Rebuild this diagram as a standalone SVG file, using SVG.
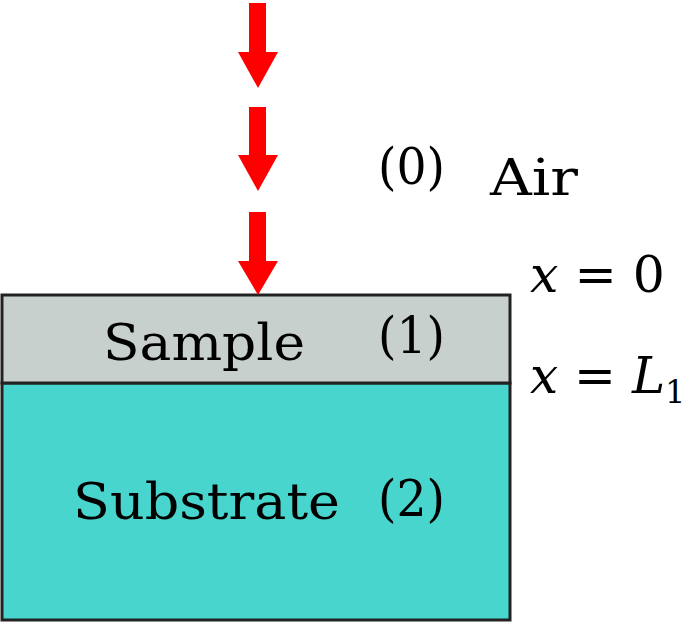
<svg xmlns="http://www.w3.org/2000/svg" width="700" height="623" viewBox="0 0 700 623">
<style>
.t{font-family:"DejaVu Serif","Liberation Serif",serif;font-size:50px;fill:#000}
.m{font-style:italic}
.a{fill:#ff0000}
</style>
<rect width="700" height="623" fill="#fff"/>
<g id="substrate"><rect x="2" y="383" width="508" height="237" fill="#48d5ce" stroke="#222" stroke-width="3"/>
<text class="t" x="73" y="519" textLength="267" lengthAdjust="spacingAndGlyphs">Substrate</text><text class="t" x="378" y="516" textLength="67" lengthAdjust="spacingAndGlyphs">(2)</text></g>
<g id="sample"><rect x="2" y="295" width="508" height="88" fill="#c8d0cd" stroke="#222" stroke-width="3"/>
<text class="t" x="103" y="360" textLength="202" lengthAdjust="spacingAndGlyphs">Sample</text><text class="t" x="378" y="353" textLength="67" lengthAdjust="spacingAndGlyphs">(1)</text></g>
<g id="air"><text class="t" x="378" y="184" textLength="67" lengthAdjust="spacingAndGlyphs">(0)</text><text class="t" x="490" y="195" textLength="88" lengthAdjust="spacingAndGlyphs">Air</text></g>
<g id="labels"><text class="t" x="530" y="292" textLength="135" lengthAdjust="spacingAndGlyphs"><tspan class="m">x</tspan> = 0</text>
<text class="t" x="530" y="393"><tspan class="m">x</tspan> = <tspan class="m">L</tspan><tspan font-size="32" dy="10">1</tspan></text></g>
<g id="connectors">
<polygon class="a" points="249,3 266,3 266,52 278,52 258,88 238,52 249,52"/>
<polygon class="a" points="249,107 266,107 266,155 278,155 258,191 238,155 249,155"/>
<polygon class="a" points="249,212 266,212 266,261 278,261 258,295 238,261 249,261"/>
</g>
</svg>
